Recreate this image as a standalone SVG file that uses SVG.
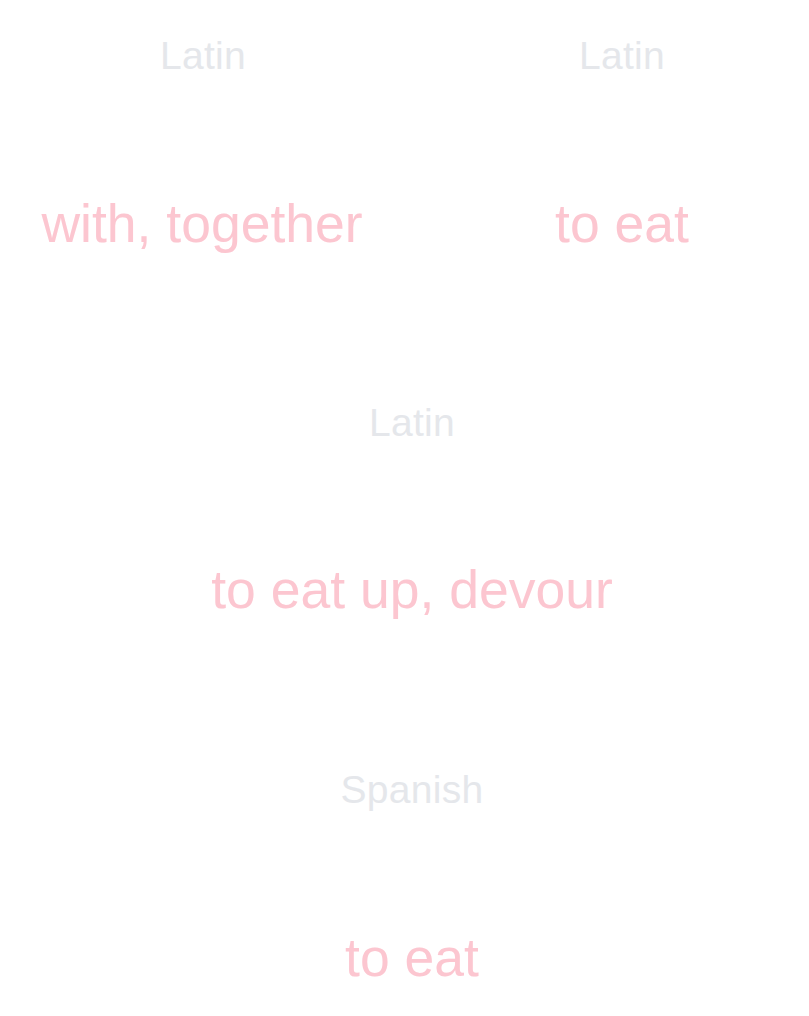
<svg xmlns="http://www.w3.org/2000/svg" width="809" height="1016" viewBox="0 0 809 1016">
<style>
.lang{font-family:"Liberation Sans",Arial,sans-serif;font-size:39px;letter-spacing:0.3px;fill:#e5e7eb;text-anchor:middle}
.gloss{font-family:"Liberation Sans",Arial,sans-serif;font-size:53.5px;fill:#fcc6d0;text-anchor:middle}
</style>
<rect width="809" height="1016" fill="#ffffff"/>
<g id="connectors"></g>
<g id="node-com">
<text class="lang" x="203" y="69">Latin</text>
<text class="gloss" x="202" y="242">with, together</text>
</g>
<g id="node-edere">
<text class="lang" x="622" y="69">Latin</text>
<text class="gloss" x="622" y="242">to eat</text>
</g>
<g id="node-comedere">
<text class="lang" x="412" y="436">Latin</text>
<text class="gloss" x="412" y="608">to eat up, devour</text>
</g>
<g id="node-comer">
<text class="lang" x="412" y="803">Spanish</text>
<text class="gloss" x="412" y="976">to eat</text>
</g>
</svg>
